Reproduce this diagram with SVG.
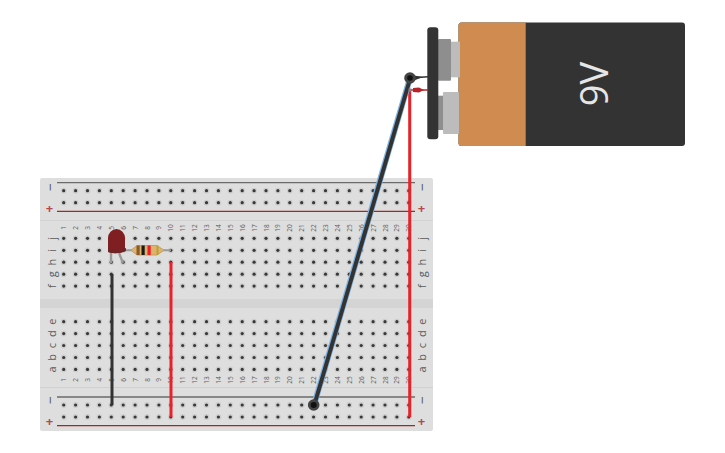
<svg xmlns="http://www.w3.org/2000/svg" xmlns:xlink="http://www.w3.org/1999/xlink" width="725" height="453" viewBox="0 0 725 453">
<style>
.n{font:6.5px "Open Sans","DejaVu Sans",sans-serif;fill:#5a5a5a;text-anchor:middle;dominant-baseline:central}
.l{font:11px "Open Sans","DejaVu Sans",sans-serif;fill:#5a5a5a;text-anchor:middle;dominant-baseline:central}
.m{font:14px "Open Sans","DejaVu Sans",sans-serif;fill:#555;text-anchor:middle;dominant-baseline:central}
.p{font:bold 13px "Open Sans","DejaVu Sans",sans-serif;fill:#b5474f;text-anchor:middle;dominant-baseline:central}
.halo{fill:#cdcdcd}.pin{fill:#383838}
.w{fill:none;stroke-linecap:butt}
</style>
<defs>
<g id="h"><circle r="2.9" class="halo"/><circle r="1.6" class="pin"/></g>
<g id="row">
<use href="#h" x="63.7"/><use href="#h" x="75.6"/><use href="#h" x="87.5"/><use href="#h" x="99.4"/><use href="#h" x="111.3"/><use href="#h" x="123.2"/><use href="#h" x="135.1"/><use href="#h" x="147"/><use href="#h" x="158.9"/><use href="#h" x="170.8"/><use href="#h" x="182.7"/><use href="#h" x="194.6"/><use href="#h" x="206.5"/><use href="#h" x="218.4"/><use href="#h" x="230.3"/><use href="#h" x="242.2"/><use href="#h" x="254.1"/><use href="#h" x="266"/><use href="#h" x="277.9"/><use href="#h" x="289.8"/><use href="#h" x="301.7"/><use href="#h" x="313.6"/><use href="#h" x="325.5"/><use href="#h" x="337.4"/><use href="#h" x="349.3"/><use href="#h" x="361.2"/><use href="#h" x="373.1"/><use href="#h" x="385"/><use href="#h" x="396.9"/><use href="#h" x="408.8"/>
</g>
</defs>
<rect width="725" height="453" fill="#fff"/>
<g id="breadboard">
<rect x="40" y="178" width="393" height="253" rx="2" fill="#dedede"/>
<rect x="40" y="299" width="393" height="9" fill="#d4d4d4"/>
<rect x="40" y="220" width="393" height="1" fill="#d2d2d2"/>
<rect x="40" y="387" width="393" height="1" fill="#d0d0d0"/>
<path d="M57 182.700H415M57 397H415" stroke="#6b6b6b" stroke-width="1.300" fill="none"/>
<path d="M57 211.300H415M57 425.700H415" stroke="#a3262b" stroke-width="1.200" fill="none"/>
<use href="#row" y="190.700"/><use href="#row" y="202.700"/>
<use href="#row" y="238.300"/><use href="#row" y="250.300"/><use href="#row" y="262.200"/><use href="#row" y="274.200"/><use href="#row" y="286.100"/>
<use href="#row" y="321.700"/><use href="#row" y="333.600"/><use href="#row" y="345.500"/><use href="#row" y="357.500"/><use href="#row" y="369.400"/>
<use href="#row" y="405"/><use href="#row" y="417"/>
<text class="m" transform="translate(49.500 187) rotate(-90)">−</text><text class="m" transform="translate(421.500 187) rotate(-90)">−</text><text class="m" transform="translate(49.500 400) rotate(-90)">−</text><text class="m" transform="translate(421.500 400) rotate(-90)">−</text>
<text class="p" x="49.500" y="208">+</text><text class="p" x="421.500" y="208">+</text><text class="p" x="49.500" y="421">+</text><text class="p" x="421.500" y="421">+</text>
<text class="l" transform="translate(51.500 238.300) rotate(-90)">j</text><text class="l" transform="translate(51.500 250.300) rotate(-90)">i</text><text class="l" transform="translate(51.500 262.200) rotate(-90)">h</text><text class="l" transform="translate(51.500 274.200) rotate(-90)">g</text><text class="l" transform="translate(51.500 286.100) rotate(-90)">f</text>
<text class="l" transform="translate(51.500 321.700) rotate(-90)">e</text><text class="l" transform="translate(51.500 333.600) rotate(-90)">d</text><text class="l" transform="translate(51.500 345.500) rotate(-90)">c</text><text class="l" transform="translate(51.500 357.500) rotate(-90)">b</text><text class="l" transform="translate(51.500 369.400) rotate(-90)">a</text>
<text class="l" transform="translate(421 238.300) rotate(-90)">j</text><text class="l" transform="translate(421 250.300) rotate(-90)">i</text><text class="l" transform="translate(421 262.200) rotate(-90)">h</text><text class="l" transform="translate(421 274.200) rotate(-90)">g</text><text class="l" transform="translate(421 286.100) rotate(-90)">f</text>
<text class="l" transform="translate(421 321.700) rotate(-90)">e</text><text class="l" transform="translate(421 333.600) rotate(-90)">d</text><text class="l" transform="translate(421 345.500) rotate(-90)">c</text><text class="l" transform="translate(421 357.500) rotate(-90)">b</text><text class="l" transform="translate(421 369.400) rotate(-90)">a</text>
<text class="n" transform="translate(63.700 228) rotate(-90)">1</text><text class="n" transform="translate(75.600 228) rotate(-90)">2</text><text class="n" transform="translate(87.500 228) rotate(-90)">3</text><text class="n" transform="translate(99.400 228) rotate(-90)">4</text><text class="n" transform="translate(111.300 228) rotate(-90)">5</text><text class="n" transform="translate(123.200 228) rotate(-90)">6</text><text class="n" transform="translate(135.100 228) rotate(-90)">7</text><text class="n" transform="translate(147 228) rotate(-90)">8</text><text class="n" transform="translate(158.900 228) rotate(-90)">9</text><text class="n" transform="translate(170.800 228) rotate(-90)">10</text><text class="n" transform="translate(182.700 228) rotate(-90)">11</text><text class="n" transform="translate(194.600 228) rotate(-90)">12</text><text class="n" transform="translate(206.500 228) rotate(-90)">13</text><text class="n" transform="translate(218.400 228) rotate(-90)">14</text><text class="n" transform="translate(230.300 228) rotate(-90)">15</text><text class="n" transform="translate(242.200 228) rotate(-90)">16</text><text class="n" transform="translate(254.100 228) rotate(-90)">17</text><text class="n" transform="translate(266 228) rotate(-90)">18</text><text class="n" transform="translate(277.900 228) rotate(-90)">19</text><text class="n" transform="translate(289.800 228) rotate(-90)">20</text><text class="n" transform="translate(301.700 228) rotate(-90)">21</text><text class="n" transform="translate(313.600 228) rotate(-90)">22</text><text class="n" transform="translate(325.500 228) rotate(-90)">23</text><text class="n" transform="translate(337.400 228) rotate(-90)">24</text><text class="n" transform="translate(349.300 228) rotate(-90)">25</text><text class="n" transform="translate(361.200 228) rotate(-90)">26</text><text class="n" transform="translate(373.100 228) rotate(-90)">27</text><text class="n" transform="translate(385 228) rotate(-90)">28</text><text class="n" transform="translate(396.900 228) rotate(-90)">29</text><text class="n" transform="translate(408.800 228) rotate(-90)">30</text>
<text class="n" transform="translate(63.700 380) rotate(-90)">1</text><text class="n" transform="translate(75.600 380) rotate(-90)">2</text><text class="n" transform="translate(87.500 380) rotate(-90)">3</text><text class="n" transform="translate(99.400 380) rotate(-90)">4</text><text class="n" transform="translate(111.300 380) rotate(-90)">5</text><text class="n" transform="translate(123.200 380) rotate(-90)">6</text><text class="n" transform="translate(135.100 380) rotate(-90)">7</text><text class="n" transform="translate(147 380) rotate(-90)">8</text><text class="n" transform="translate(158.900 380) rotate(-90)">9</text><text class="n" transform="translate(170.800 380) rotate(-90)">10</text><text class="n" transform="translate(182.700 380) rotate(-90)">11</text><text class="n" transform="translate(194.600 380) rotate(-90)">12</text><text class="n" transform="translate(206.500 380) rotate(-90)">13</text><text class="n" transform="translate(218.400 380) rotate(-90)">14</text><text class="n" transform="translate(230.300 380) rotate(-90)">15</text><text class="n" transform="translate(242.200 380) rotate(-90)">16</text><text class="n" transform="translate(254.100 380) rotate(-90)">17</text><text class="n" transform="translate(266 380) rotate(-90)">18</text><text class="n" transform="translate(277.900 380) rotate(-90)">19</text><text class="n" transform="translate(289.800 380) rotate(-90)">20</text><text class="n" transform="translate(301.700 380) rotate(-90)">21</text><text class="n" transform="translate(313.600 380) rotate(-90)">22</text><text class="n" transform="translate(325.500 380) rotate(-90)">23</text><text class="n" transform="translate(337.400 380) rotate(-90)">24</text><text class="n" transform="translate(349.300 380) rotate(-90)">25</text><text class="n" transform="translate(361.200 380) rotate(-90)">26</text><text class="n" transform="translate(373.100 380) rotate(-90)">27</text><text class="n" transform="translate(385 380) rotate(-90)">28</text><text class="n" transform="translate(396.900 380) rotate(-90)">29</text><text class="n" transform="translate(408.800 380) rotate(-90)">30</text>
</g>
<g id="resistor">
<path d="M125 250.300H171" stroke="#9a9a9a" stroke-width="2" fill="none"/>
<path d="M131 250.300 L137 245.500 H157 L164 250.300 L157 255 H137 Z" fill="#dcb36f" stroke="#c89f5c" stroke-width="1" stroke-linejoin="round"/>
<rect x="136.500" y="245.500" width="3.200" height="9.500" fill="#8a5a28"/>
<rect x="141.500" y="245.500" width="3.200" height="9.500" fill="#1a1a1a"/>
<rect x="147.500" y="245.500" width="3.200" height="9.500" fill="#ee1c25"/>
<rect x="156.500" y="245.500" width="2" height="9.500" fill="#b9a23a"/>
</g>
<g id="led">
<path d="M111 253V263M119 253L123 263" stroke="#9a9a9a" stroke-width="2.400" fill="none"/>
<path d="M108 248V238A8.500 9 0 0 1 125 238V248H125.800V251Q117 255 108 252Z" fill="#7f1f22"/>
<path d="M108 248.500Q117 252 125.600 248.500V251Q117 255 108 252Z" fill="#6f2426"/>
</g>
<g id="battery">
<rect x="458.500" y="22.500" width="226.500" height="123.500" rx="3" fill="#333"/>
<path d="M525.700 22.500H461.500a3 3 0 0 0-3 3V143a3 3 0 0 0 3 3H525.700Z" fill="#d08c50"/>
<rect x="450" y="41.700" width="10" height="35.600" fill="#bcbcbc"/>
<rect x="438" y="39" width="13" height="41.700" rx="1" fill="#8e8e8e"/>
<rect x="438" y="95.700" width="6" height="34.300" fill="#8e8e8e"/>
<rect x="443" y="92" width="16" height="42" rx="1" fill="#bcbcbc"/>
<rect x="427.300" y="27.300" width="11" height="112" rx="3" fill="#333"/>
<text transform="translate(592.500 84) rotate(-90)" font-family="'Open Sans','DejaVu Sans',sans-serif" font-size="38" fill="#e6e6e6" text-anchor="middle" dominant-baseline="central">9V</text>
</g>
<g id="connectors">
<path class="w" d="M112 274V405" stroke="#333" stroke-width="3"/>
<path class="w" d="M171 262V417" stroke="#e8222a" stroke-width="3"/>
<path class="w" d="M409.700 90V417" stroke="#e8222a" stroke-width="3"/>
<path class="w" d="M410 78L314 405" stroke="#7db2e2" stroke-width="6"/>
<path class="w" d="M410.300 78L314.300 405" stroke="#333" stroke-width="4"/>
<path d="M410 78L428 76.700" stroke="#333" stroke-width="1.500" fill="none"/>
<path d="M414 75.500L423 77L414 80.500Z" fill="#333"/>
<path d="M410 90H428" stroke="#b4242a" stroke-width="1.500" fill="none"/>
<path d="M413 88L419 87.500L424 90L419 92.500L413 92Z" fill="#b4242a"/>
<rect x="408.500" y="88.500" width="3" height="3" fill="#9a8080"/>
<circle cx="410" cy="78" r="5.800" fill="#444"/><circle cx="410" cy="78" r="2.800" fill="#111"/>
<circle cx="313.700" cy="405" r="5.800" fill="#444"/><circle cx="313.700" cy="405" r="3" fill="#111"/>
</g>
</svg>
